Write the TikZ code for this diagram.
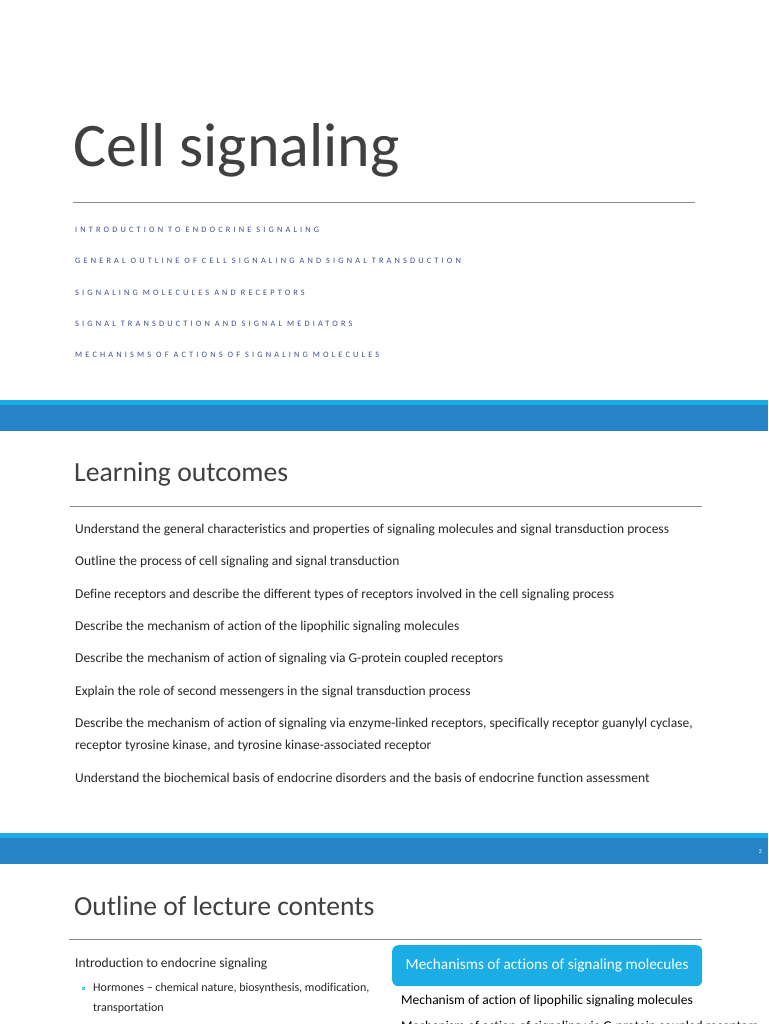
\documentclass[tikz,border=0pt]{standalone}
\usepackage{fontspec}
\setmainfont[Ligatures=NoCommon]{Carlito}
\newfontfamily\capsfont[LetterSpace=38,Ligatures=NoCommon]{Carlito}
\definecolor{barblue}{HTML}{2683C6}
\definecolor{barlight}{HTML}{1CADE4}
\definecolor{titlegray}{HTML}{404040}
\definecolor{capblue}{HTML}{3B4E87}
\definecolor{bodytxt}{HTML}{262626}
\definecolor{rulegray}{HTML}{8C8C8C}
\begin{document}
\begin{tikzpicture}[x=1pt,y=-1pt,
  body/.style={anchor=west,inner sep=0pt,font=\fontsize{13.5}{15}\selectfont,text=bodytxt},
  capline/.style={anchor=west,inner sep=0pt,font=\capsfont\fontsize{8.3}{10}\selectfont,text=capblue},
  rulel/.style={draw=rulegray,line width=0.8pt}]
\useasboundingbox (0,0) rectangle (768,1024);
\clip (0,0) rectangle (768,1024);
% title slide
\node[anchor=west,inner sep=0pt,font=\fontsize{62}{64}\selectfont,text=titlegray] (title) at (73,150) {Cell signaling};
\draw[rulel] (73,202) -- (695,202);
\node[capline] (c1) at (75,230) {INTRODUCTION TO ENDOCRINE SIGNALING};
\node[capline] (c2) at (75,261) {GENERAL OUTLINE OF CELL SIGNALING AND SIGNAL TRANSDUCTION};
\node[capline] (c3) at (75,293) {SIGNALING MOLECULES AND RECEPTORS};
\node[capline] (c4) at (75,324) {SIGNAL TRANSDUCTION AND SIGNAL MEDIATORS};
\node[capline] (c5) at (75,355) {MECHANISMS OF ACTIONS OF SIGNALING MOLECULES};
% bar 1
\fill[barlight] (0,400) rectangle (768,405);
\fill[barblue] (0,405) rectangle (768,431);
% learning outcomes
\node[anchor=west,inner sep=0pt,font=\fontsize{27.7}{30}\selectfont,text=titlegray] (lo) at (74,474) {Learning outcomes};
\draw[rulel] (70,506) -- (702,506);
\node[body] at (75,530) {Understand the general characteristics and properties of signaling molecules and signal transduction process};
\node[body] at (75,562) {Outline the process of cell signaling and signal transduction};
\node[body] at (75,595) {Define receptors and describe the different types of receptors involved in the cell signaling process};
\node[body] at (75,627) {Describe the mechanism of action of the lipophilic signaling molecules};
\node[body] at (75,659) {Describe the mechanism of action of signaling via G-protein coupled receptors};
\node[body] at (75,692) {Explain the role of second messengers in the signal transduction process};
\node[body] at (75,724) {Describe the mechanism of action of signaling via enzyme-linked receptors, specifically receptor guanylyl cyclase,};
\node[body] at (75,746) {receptor tyrosine kinase, and tyrosine kinase-associated receptor};
\node[body] at (75,778) {Understand the biochemical basis of endocrine disorders and the basis of endocrine function assessment};
% bar 2
\fill[barlight] (0,833) rectangle (768,838);
\fill[barblue] (0,838) rectangle (768,864);
\node[anchor=east,inner sep=0pt,font=\fontsize{6}{7}\selectfont,text=white] (pg) at (762,852) {2};
% outline
\node[anchor=west,inner sep=0pt,font=\fontsize{27.6}{30}\selectfont,text=titlegray] (ol) at (74,906) {Outline of lecture contents};
\draw[rulel] (69,939) -- (702,939);
\node[body] (intro) at (75,964) {Introduction to endocrine signaling};
\fill[barlight!70] (81.5,986.5) rectangle (84.5,989.5);
\node[body,font=\fontsize{12}{14}\selectfont] (h1) at (93,988) {Hormones -- chemical nature, biosynthesis, modification,};
\node[body,font=\fontsize{12}{14}\selectfont] (h2) at (93,1008) {transportation};
\node[fill=barlight,rounded corners=6pt,minimum width=310pt,minimum height=41pt,inner sep=0pt,anchor=north west,text=white,font=\fontsize{15.3}{17}\selectfont] (mbox) at (392,945) {Mechanisms of actions of signaling molecules};
\node[body,text=black] (m1) at (401,1001) {Mechanism of action of lipophilic signaling molecules};
\node[body,text=black] (m2) at (401,1027) {Mechanism of action of signaling via G-protein coupled receptors};
\end{tikzpicture}
\end{document}
